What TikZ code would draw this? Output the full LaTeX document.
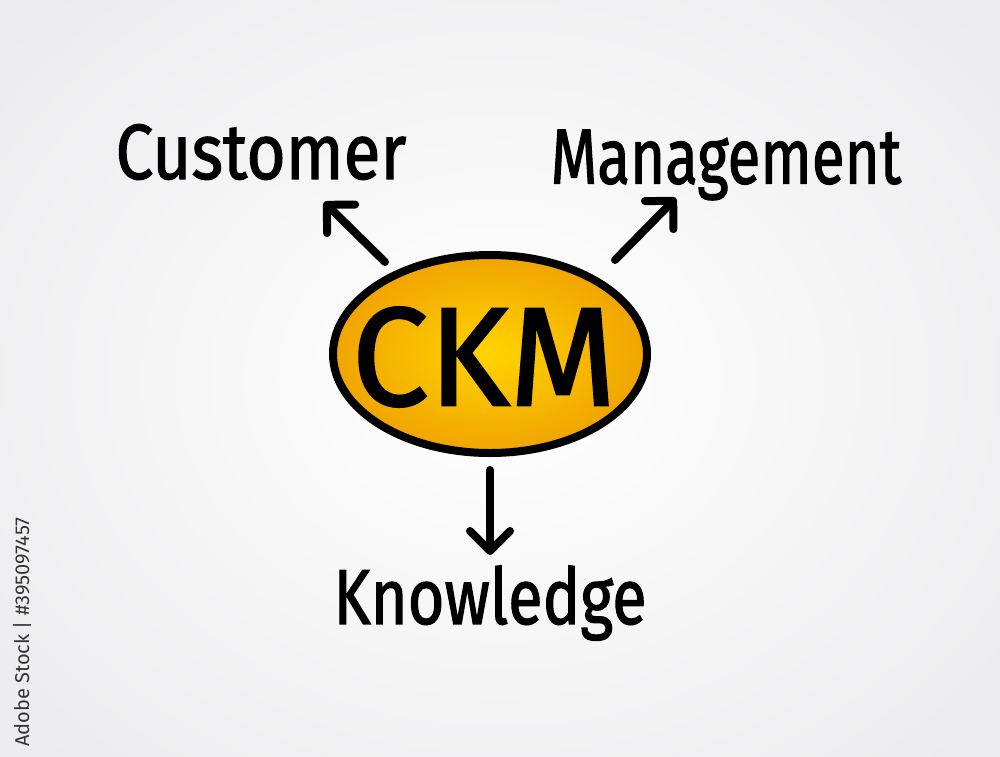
\documentclass[tikz,border=0pt]{standalone}
\usepackage{fontspec}
\setmainfont{Fira Sans}
\newfontfamily\handfont{Fira Sans}[FakeBold=1.6]
\usetikzlibrary{shapes.geometric,arrows.meta}
\definecolor{ckmin}{HTML}{FFD400}
\definecolor{ckmout}{HTML}{F0A400}
\definecolor{bgout}{HTML}{ECECEE}
\definecolor{marktxt}{HTML}{333333}
\tikzset{
  hand/.style={font=\fontsize{#1}{#1}\selectfont\handfont, text=black, inner sep=0pt},
  pen/.style={draw=black, line width=8pt, line cap=round, line join=round,
    -{Straight Barb[length=20pt, width=40pt, line width=8pt, round]}},
}
\begin{document}
\begin{tikzpicture}[x=1pt,y=-1pt]
\useasboundingbox (0,0) rectangle (1000,756);
\shade[inner color=white, outer color=bgout] (-150,-150) rectangle (1150,906);
% central ellipse
\node[ellipse, draw=black, line width=8pt, minimum width=314pt, minimum height=198pt,
  inner color=ckmin, outer color=ckmout] (ckm) at (490,354) {};
\node[hand=140] (ckmt) at (484,357) {\scalebox{0.98}[1]{CKM}};
% labels
\node[hand=78] (cust) at (261,152) {\scalebox{0.865}[1]{Customer}};
\node[hand=78] (mgmt) at (726,165) {\scalebox{0.77}[1]{Management}};
\node[hand=78] (know) at (490,603) {\scalebox{0.81}[1]{Knowledge}};
% arrow ends
\coordinate (a1s) at (385,262);
\coordinate (a1e) at (324,202);
\coordinate (a2s) at (615,260);
\coordinate (a2e) at (676,198);
\coordinate (a3s) at (490,470);
\coordinate (a3e) at (490,555);
\draw[pen] (a1s) -- (a1e);
\draw[pen] (a2s) -- (a2e);
\draw[pen] (a3s) -- (a3e);
% stock mark
\node[rotate=90, text=marktxt, font=\fontsize{20}{20}\selectfont, inner sep=0pt] (mark) at (22,632) {Adobe Stock | \#395097457};
\end{tikzpicture}
\end{document}
